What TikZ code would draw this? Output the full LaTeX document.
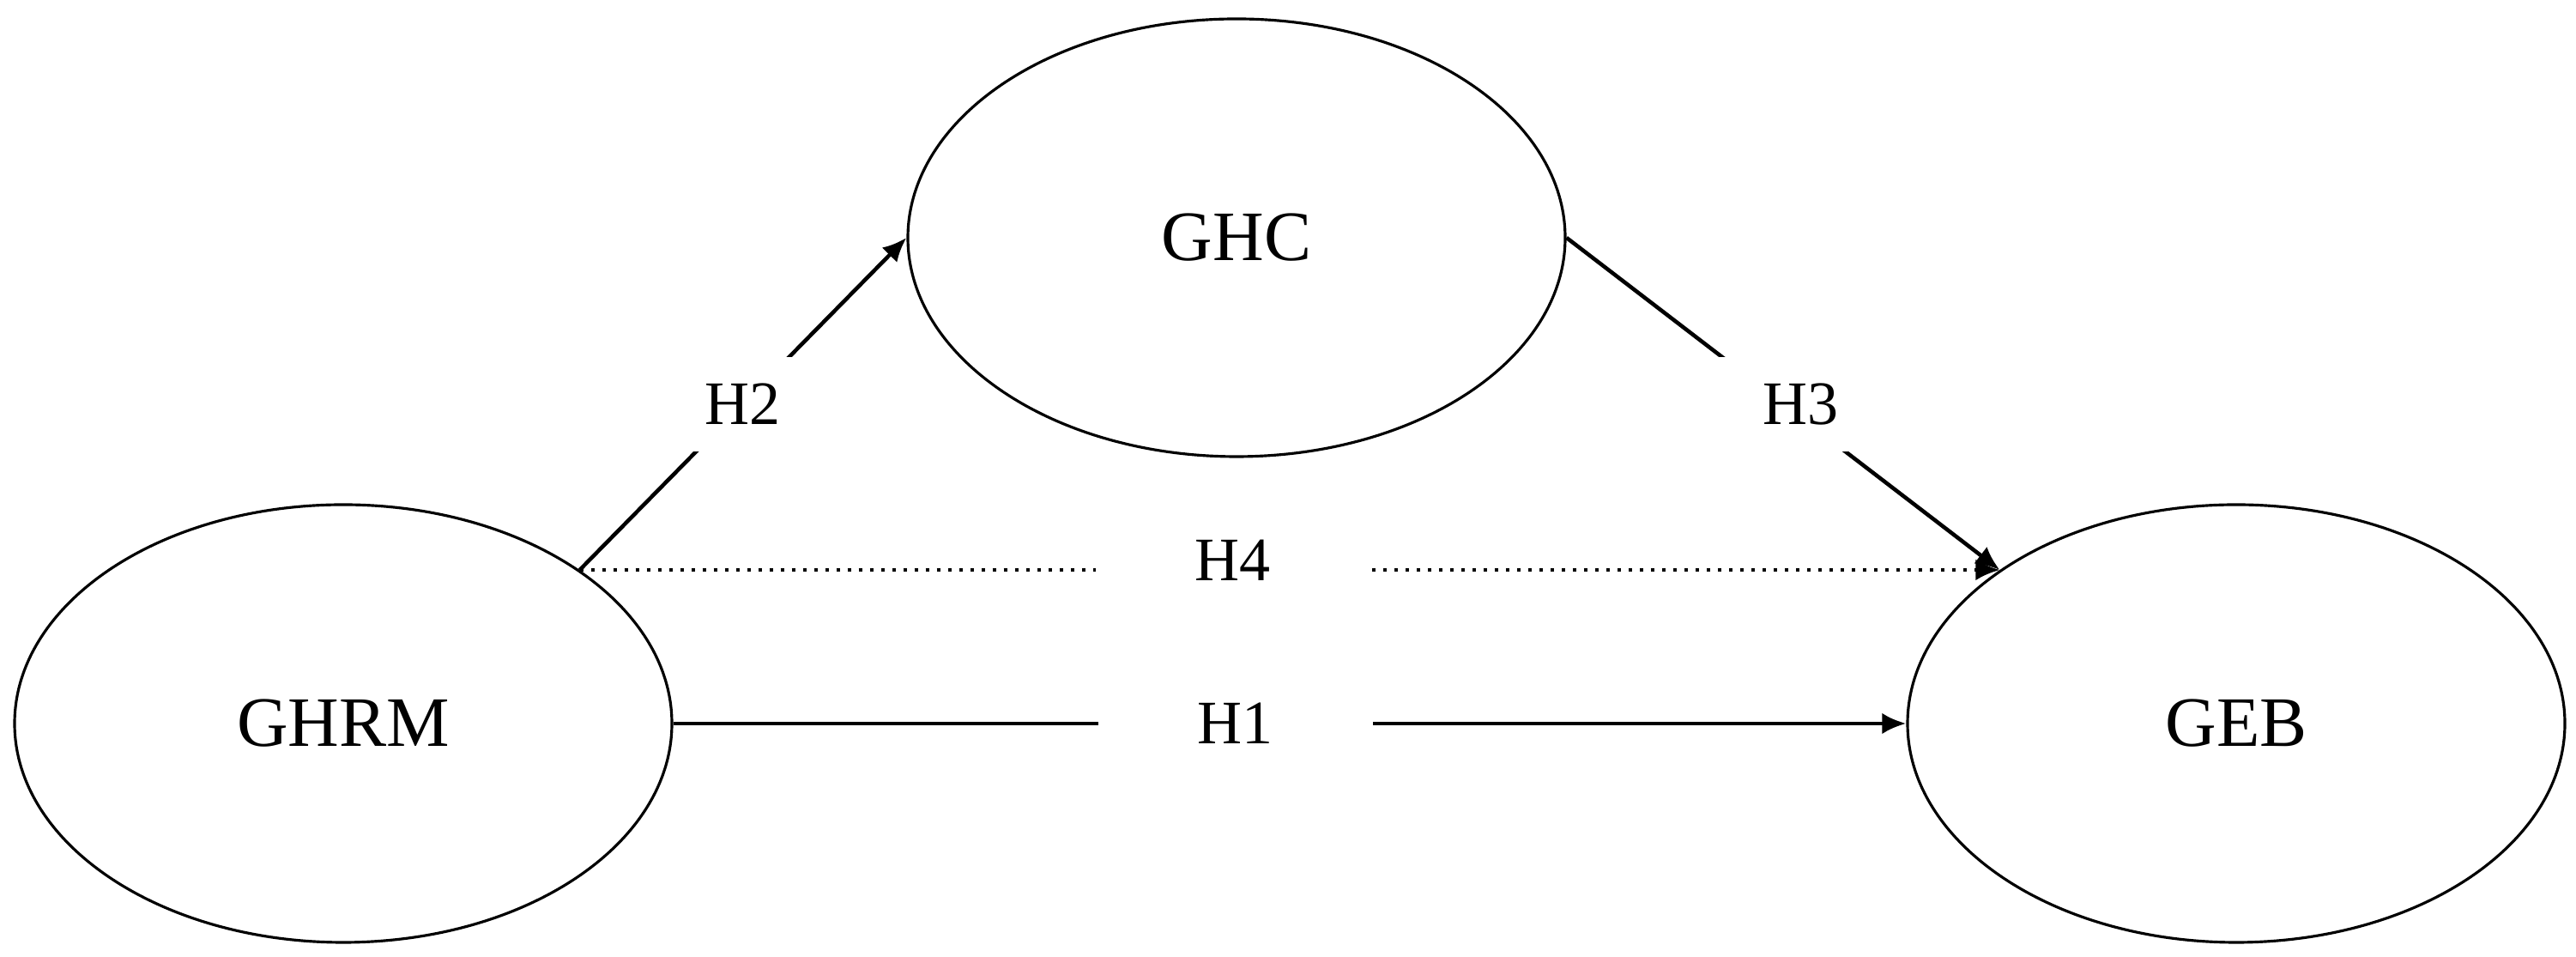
\documentclass[tikz,border=0pt]{standalone}
\usepackage{fontspec}
\setmainfont{Liberation Serif}
\usetikzlibrary{shapes.geometric,arrows.meta}

\begin{document}
\begin{tikzpicture}[scale=1.0,
    var/.style={ellipse, draw, line width=0.9pt, minimum width=7.66cm, minimum height=5.1cm, inner sep=0pt, font=\fontsize{23.5}{24}\selectfont},
    hyp/.style={fill=white, minimum width=3.2cm, minimum height=1.1cm, inner sep=0pt, font=\fontsize{20.5}{21}\selectfont},
    link/.style={line width=1.3pt, -{Latex[length=8pt,width=7pt]}}]
    \useasboundingbox (0,0) rectangle (30.02,11.15);
    \node[var] (ghrm) at (4.00,2.72) {GHRM};
    \node[var] (ghc) at (14.41,8.38) {GHC};
    \node[var] (geb) at (26.06,2.72) {GEB};
    \draw[link] (ghrm.33) -- (ghc.west) node[midway, hyp] {H2};
    \draw[link] (ghc.east) -- (geb.147) node[midway, hyp, xshift=2mm] {H3};
    \draw[link, line width=1.1pt, dash pattern=on 1.2pt off 2.5pt] (ghrm.33) -- (geb.147) node[pos=0.46, hyp, yshift=1.1mm] {H4};
    \draw[link] (ghrm.east) -- (geb.west) node[pos=0.456, hyp] {H1};
\end{tikzpicture}
\end{document}
